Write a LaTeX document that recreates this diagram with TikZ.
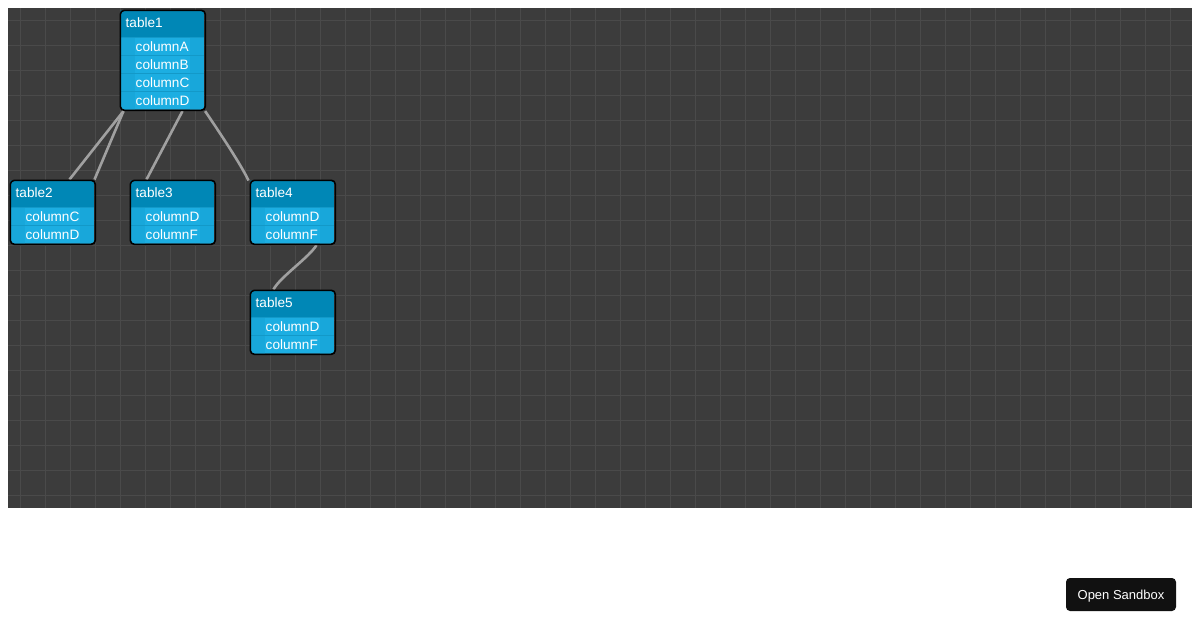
\documentclass[tikz,border=0pt]{standalone}
\usepackage{fontspec}
\setmainfont{Liberation Sans}
\usetikzlibrary{calc}
\definecolor{bgc}{HTML}{3C3C3C}
\definecolor{gridc}{HTML}{4A4A4A}
\definecolor{hdr}{HTML}{0087B6}
\definecolor{rowc}{HTML}{1CAEE2}
\definecolor{rowside}{HTML}{18A7DA}
\definecolor{rowsep}{HTML}{1399C8}
\definecolor{linkc}{HTML}{A0A0A0}
\definecolor{btnc}{HTML}{111111}
\pgfdeclarelayer{backl}
\pgfdeclarelayer{linkl}
\pgfsetlayers{backl,linkl,main}
\tikzset{
  tbox/.style={draw=black, line width=1.6pt, rounded corners=4pt, inner sep=0pt, minimum width=85pt, fill=none},
  rowtext/.style={text=white, inner sep=0pt, font=\fontsize{13.6}{16}\selectfont},
  hdrtext/.style={text=white, inner sep=0pt, font=\fontsize{13.6}{16}\selectfont},
  link/.style={draw=linkc, line width=2.6pt},
  btn/.style={fill=btnc, rounded corners=4pt, text=white, inner sep=0pt, minimum width=110pt, minimum height=33pt, text height=12pt, text depth=1.3pt, font=\fontsize{13}{15}\selectfont}
}
\newcommand\dbtable[6]{%
  \pgfmathsetmacro\tbh{28+18*#5}
  \begin{scope}
    \clip[rounded corners=4pt] (#2,#3) rectangle ++(85,\tbh);
    \fill[rowc] (#2,#3) rectangle ++(85,\tbh);
    \fill[hdr] (#2,#3) rectangle ++(85,28);
    \foreach \r [count=\i from 0] in {#6} {
      \fill[rowside] (#2,#3+28+18*\i) rectangle ++(15,18);
      \fill[rowside] (#2+70,#3+28+18*\i) rectangle ++(15,18);
      \draw[rowsep, line width=0.6pt] (#2,#3+28+18*\i) -- ++(85,0);
      \node[rowtext, anchor=west] (#1-r\i) at (#2+16,#3+28+18*\i+9) {\r};
    }
  \end{scope}
  \node[tbox, minimum height=\tbh pt, anchor=north west] (#1) at (#2,#3) {};
  \node[hdrtext, anchor=west] (#1-h) at (#2+6,#3+13.5) {#4};
}
\begin{document}
\begin{tikzpicture}[x=1pt,y=-1pt]
\useasboundingbox (0,0) rectangle (1200,630);
\begin{pgfonlayer}{backl}
  \fill[white] (0,0) rectangle (1200,630);
  \fill[bgc] (8,8) rectangle (1192,508);
  \begin{scope}
    \clip (8,8) rectangle (1192,508);
    \foreach \gx in {0,...,47} {\draw[gridc, line width=1pt] (20.5+25*\gx,8) -- (20.5+25*\gx,508);}
    \foreach \gy in {0,...,19} {\draw[gridc, line width=1pt] (8,20.5+25*\gy) -- (1192,20.5+25*\gy);}
  \end{scope}
\end{pgfonlayer}

\dbtable{t1}{119.5}{9.5}{table1}{4}{columnA,columnB,columnC,columnD}
\dbtable{t2}{9.5}{179.5}{table2}{2}{columnC,columnD}
\dbtable{t3}{129.5}{179.5}{table3}{2}{columnD,columnF}
\dbtable{t4}{249.5}{179.5}{table4}{2}{columnD,columnF}
\dbtable{t5}{249.5}{289.5}{table5}{2}{columnD,columnF}

\begin{pgfonlayer}{linkl}
  \draw[link] ([xshift=4pt]t1.south west) -- ([xshift=60pt]t2.north west);
  \draw[link] ([xshift=4pt]t1.south west) -- ([xshift=85pt]t2.north west);
  \draw[link] ([xshift=63pt]t1.south west) -- ([xshift=17pt]t3.north west);
  \draw[link] ([xshift=-1pt]t1.south east) .. controls ([xshift=14pt,yshift=-22pt]t1.south east) and ([xshift=-8pt,yshift=14pt]t4.north west) .. ([xshift=-1pt,yshift=-1pt]t4.north west);
  \draw[link] ([xshift=67pt]t4.south west) .. controls ([xshift=60pt,yshift=-12pt]t4.south west) and ([xshift=30pt,yshift=12pt]t5.north west) .. ([xshift=24pt]t5.north west);
\end{pgfonlayer}

\node[btn] (open) at (1121,594.5) {Open Sandbox};
\end{tikzpicture}
\end{document}
